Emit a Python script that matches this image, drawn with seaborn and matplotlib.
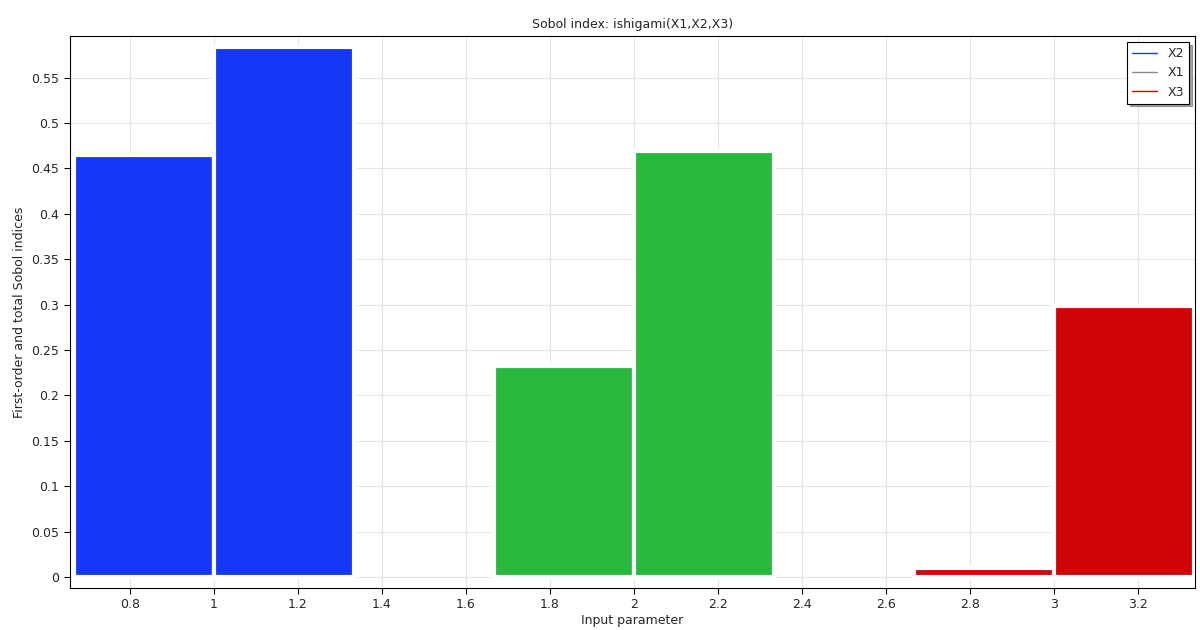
import numpy as np
import pandas as pd
import matplotlib
matplotlib.use("Agg")
import matplotlib.pyplot as plt
import seaborn as sns
from matplotlib.lines import Line2D

# bar left edges, heights and colours
bar_left = [2/3, 1.0, 5/3, 2.0, 8/3, 3.0]
bar_height = [0.465, 0.584, 0.232, 0.469, 0.010, 0.298]
bar_color = ["#1438f5", "#1438f5", "#29b83e", "#29b83e", "#d00606", "#d00606"]

x_ticks = [0.8, 1, 1.2, 1.4, 1.6, 1.8, 2, 2.2, 2.4, 2.6, 2.8, 3, 3.2]
y_ticks = [0, 0.05, 0.1, 0.15, 0.2, 0.25, 0.3, 0.35, 0.4, 0.45, 0.5, 0.55]

legend_names = ["X2", "X1", "X3"]
legend_colors = ["#1438f5", "#888888", "#d00606"]

sns.set_style("whitegrid", {"grid.color": "#e4e4e4"})
plt.rcParams["font.family"] = ["DejaVu Sans"]

df = pd.DataFrame({"left": bar_left, "height": bar_height, "color": bar_color})

fig, ax = plt.subplots(figsize=(12, 6.3), dpi=100)
ax.bar(df["left"], df["height"], width=1/3, align="edge",
       color=df["color"], edgecolor="white", linewidth=3, zorder=3)

ax.set_xlim(0.657, 3.336)
ax.set_ylim(-0.012, 0.596)
ax.set_xticks(x_ticks)
ax.set_xticklabels([f"{t:g}" for t in x_ticks], fontsize=9)
ax.set_yticks(y_ticks)
ax.set_yticklabels([f"{t:g}" for t in y_ticks], fontsize=9)
ax.tick_params(axis="both", length=4, color="black", direction="out")
ax.tick_params(bottom=True, left=True)
for s in ax.spines.values():
    s.set_color("black")
    s.set_linewidth(0.8)

ax.set_title("Sobol index: ishigami(X1,X2,X3)", fontsize=9)
ax.set_xlabel("Input parameter", fontsize=9, labelpad=2)
ax.set_ylabel("First-order and total Sobol indices", fontsize=9)

handles = [Line2D([0], [0], color=c, lw=1) for c in legend_colors]
leg = ax.legend(handles, legend_names, loc="upper right", fontsize=9,
                frameon=True, shadow=True, fancybox=False, edgecolor="black",
                handlelength=2)
leg.get_frame().set_linewidth(0.8)

plt.subplots_adjust(left=0.058, right=0.996, top=0.943, bottom=0.067)
plt.savefig("out.png", dpi=100)
